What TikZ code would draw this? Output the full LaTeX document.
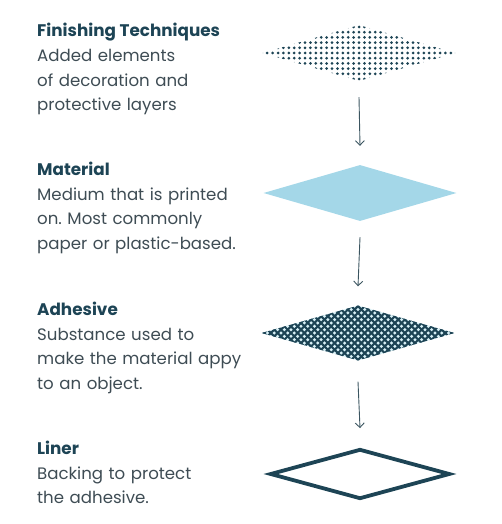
\documentclass[tikz,border=0pt]{standalone}
\usepackage{fontspec}
\setmainfont{Poppins}
\usepackage{tikz}
\usetikzlibrary{arrows.meta,positioning,shapes.geometric}

\definecolor{tealdark}{HTML}{1D4455}
\definecolor{bodygray}{HTML}{3E4C54}
\definecolor{lightblue}{HTML}{A4D7E8}
\definecolor{holeblue}{HTML}{D8F1F7}
\definecolor{arrowgray}{HTML}{3B5560}

\begin{document}
\frenchspacing
\begin{tikzpicture}[
    x=1pt, y=-1pt,
    >={Straight Barb[length=4.5pt,width=9pt]},
    title/.style={anchor=base west, inner sep=0, font=\fontsize{16.8}{24.5}\selectfont\bfseries, text=tealdark},
    body/.style={anchor=base west, inner sep=0, text width=230pt, align=left, font=\fontsize{16.6}{24.5}\selectfont, text=bodygray},
    layer/.style={diamond, inner sep=0, minimum width=193pt, minimum height=56pt},
    link/.style={->, draw=arrowgray, line width=0.9pt}
]
\useasboundingbox (0,0) rectangle (501,524);

% Textos (izquierda)
\node[title] (tfin) at (37,37) {Finishing Techniques};
\node[body] (bfin) at (37,62) {Added elements\\of decoration and\\protective layers};
\node[title] (tmat) at (37,175) {Material};
\node[body] (bmat) at (37,200) {Medium that is printed\\on. Most commonly\\paper or plastic-based.};
\node[title] (tadh) at (37,315) {Adhesive};
\node[body] (badh) at (37,340) {Substance used to\\make the material appy\\to an object.};
\node[title] (tlin) at (37,454) {Liner};
\node[body] (blin) at (37,479) {Backing to protect\\the adhesive.};

% Capas (derecha)
\node[layer, path picture={
    \foreach \i in {-6,...,6}
      \foreach \j in {-19,...,19}
        \fill[tealdark] ([shift={(\j*5.4,\i*5.2)}]path picture bounding box.center) circle (1.5pt);
  }] (dfin) at (359,53) {};
\node[layer, fill=lightblue] (dmat) at (360,193) {};
\node[layer, minimum height=55pt, fill=holeblue, path picture={
    \foreach \k in {-30,...,30} {
      \draw[tealdark, line width=2.1pt] ([xshift=\k*6.7pt]path picture bounding box.center) ++(-40,-40) -- ++(80,80);
      \draw[tealdark, line width=2.1pt] ([xshift=\k*6.7pt]path picture bounding box.center) ++(-40,40) -- ++(80,-80);
    }
  }] (dadh) at (358,333) {};
\node[layer, draw=tealdark, line width=3.8pt, minimum width=180pt, minimum height=50pt] (dlin) at (360,474) {};

% Flechas
\draw[link] ([yshift=-16pt]dfin.south) -- ([yshift=19pt]dmat.north);
\draw[link] ([yshift=-16pt]dmat.south) -- ([yshift=19pt]dadh.north);
\draw[link] ([yshift=-21pt]dadh.south) -- ([yshift=19pt]dlin.north);
\end{tikzpicture}
\end{document}
